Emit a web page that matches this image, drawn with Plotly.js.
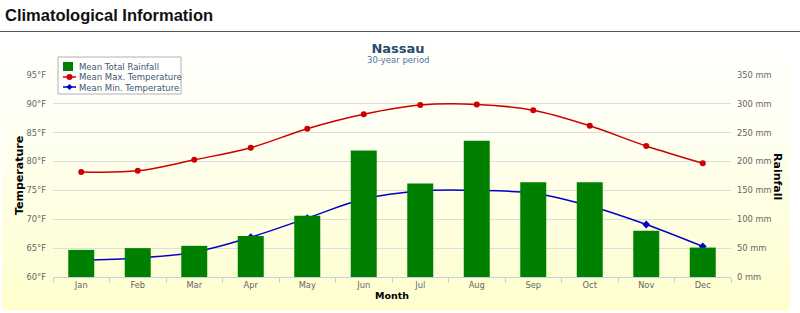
<!DOCTYPE html>
<html>
<head>
<meta charset="utf-8">
<script src="https://cdn.plot.ly/plotly-3.0.1.min.js"></script>
<style>
  html, body { margin:0; padding:0; width:800px; height:313px; overflow:hidden; background:#fff; font-family:"DejaVu Sans", sans-serif; }
  #heading { position:absolute; left:5px; top:3px; font-family:"Liberation Sans", Arial, sans-serif; font-size:16.5px; font-weight:bold; color:#111; margin:0; line-height:24px; }
  #rule { position:absolute; left:0; top:31px; width:800px; height:1px; background:#555; }
  #bg { position:absolute; left:2px; top:33px; width:788px; height:278px; border-radius:0 0 6px 6px;
        background:linear-gradient(to bottom, #ffffff 0%, #fffff0 40%, #fefecd 100%); }
  #chart { position:absolute; left:0; top:0; width:800px; height:313px; }
</style>
</head>
<body>
<h2 id="heading">Climatological Information</h2>
<div id="rule"></div>
<div id="bg"></div>
<div id="chart"></div>
<script>
const months = ["Jan","Feb","Mar","Apr","May","Jun","Jul","Aug","Sep","Oct","Nov","Dec"];
const rainfall = [47, 50, 54, 71, 106, 219, 162, 236, 164, 164, 80, 51];
const maxTemp = [78.2, 78.4, 80.3, 82.4, 85.7, 88.2, 89.8, 89.9, 88.9, 86.2, 82.7, 79.7];
const minTemp = [62.9, 63.3, 64.3, 66.9, 70.2, 73.5, 74.9, 75.0, 74.5, 72.3, 69.1, 65.3];
const tempTicks = [60, 65, 70, 75, 80, 85, 90, 95];
const rainTicks = [0, 50, 100, 150, 200, 250, 300, 350];
const seriesNames = ["Mean Total Rainfall", "Mean Max. Temperature", "Mean Min. Temperature"];
const seriesColors = ["#008000", "#cc0000", "#0000cc"];

// plot area in page pixels
const L = 53, R = 731, T = 75, B = 277;
const px = v => (v - L) / (R - L);
const py = v => (B - v) / (B - T);

const tickFont = {family:"DejaVu Sans", size:8.3, color:"#666"};
const data = [
  {type:"bar", name:seriesNames[0], x:months, y:rainfall, yaxis:"y2",
   marker:{color:seriesColors[0], line:{width:0}}},
  {type:"scatter", mode:"lines+markers", name:seriesNames[1], x:months, y:maxTemp,
   line:{color:seriesColors[1], width:1.5, shape:"spline"}, marker:{color:seriesColors[1], size:6, symbol:"circle"}},
  {type:"scatter", mode:"lines+markers", name:seriesNames[2], x:months, y:minTemp,
   line:{color:seriesColors[2], width:1.5, shape:"spline"}, marker:{color:seriesColors[2], size:6, symbol:"diamond"}}
];

// custom compact legend (Highcharts-like)
const shapes = [
  {type:"rect", xref:"paper", yref:"paper", x0:px(58), x1:px(181), y0:py(57), y1:py(94),
   line:{color:"#b0b0b0", width:1}, fillcolor:"rgba(255,255,255,0.85)", layer:"above"},
  {type:"rect", xref:"paper", yref:"paper", x0:px(63), x1:px(73), y0:py(62), y1:py(71),
   line:{width:0}, fillcolor:seriesColors[0], layer:"above"},
  {type:"line", xref:"paper", yref:"paper", x0:px(63), x1:px(76), y0:py(77), y1:py(77),
   line:{color:seriesColors[1], width:1.5}, layer:"above"},
  {type:"circle", xref:"paper", yref:"paper", x0:px(66.5), x1:px(72.5), y0:py(74), y1:py(80),
   line:{width:0}, fillcolor:seriesColors[1], layer:"above"},
  {type:"line", xref:"paper", yref:"paper", x0:px(63), x1:px(76), y0:py(87), y1:py(87),
   line:{color:seriesColors[2], width:1.5}, layer:"above"},
  {type:"path", xref:"paper", yref:"paper",
   path:`M ${px(69.5)},${py(84)} L ${px(72.5)},${py(87)} L ${px(69.5)},${py(90)} L ${px(66.5)},${py(87)} Z`,
   line:{width:0}, fillcolor:seriesColors[2], layer:"above"}
];
const legendRows = [66.5, 77, 87.5];
const annotations = [
  {text:"30-year period", xref:"paper", yref:"paper", x:px(398), y:py(60), yanchor:"middle",
   showarrow:false, font:{family:"DejaVu Sans", size:8.5, color:"#4d759e"}},
  {text:"<b>Temperature</b>", xref:"paper", yref:"paper", x:px(19), y:0.5, textangle:-90,
   showarrow:false, xanchor:"center", yanchor:"middle", font:{family:"DejaVu Sans", size:11, color:"#000"}},
  {text:"<b>Rainfall</b>", xref:"paper", yref:"paper", x:px(778), y:0.5, textangle:90,
   showarrow:false, xanchor:"center", yanchor:"middle", font:{family:"DejaVu Sans", size:11, color:"#000"}},
  {text:"<b>Month</b>", xref:"paper", yref:"paper", x:px(392), y:py(295), yanchor:"middle",
   showarrow:false, font:{family:"DejaVu Sans", size:9.5, color:"#000"}}
];
seriesNames.forEach((n, i) => annotations.push({
  text:n, xref:"paper", yref:"paper", x:px(77), y:py(legendRows[i]), xanchor:"left", yanchor:"middle",
  showarrow:false, font:{family:"DejaVu Sans", size:8.5, color:"#3e576f"}
}));

const layout = {
  width:800, height:313,
  margin:{l:L, r:800-R, t:T, b:313-B, pad:0},
  paper_bgcolor:"rgba(0,0,0,0)", plot_bgcolor:"rgba(0,0,0,0)",
  font:{family:"DejaVu Sans", color:"#333"},
  showlegend:false,
  bargap:0.54,
  title:{text:"<b>Nassau</b>", font:{family:"DejaVu Sans", size:13, color:"#274b6d"},
         x:px(398), xref:"paper", xanchor:"center", y:1-48/313, yref:"container", yanchor:"middle"},
  xaxis:{type:"category", range:[-0.5, months.length - 0.5], tickson:"boundaries", ticks:"outside",
         ticklen:5, tickcolor:"#c0d0e0",
         showline:true, linecolor:"#c0d0e0", linewidth:1, showgrid:false, automargin:false,
         tickfont:tickFont},
  yaxis:{range:[60,95], tickmode:"array", tickvals:tempTicks, ticktext:tempTicks.map(v => v + "°F"),
         showgrid:true, gridcolor:"#dddddd", zeroline:false, showline:false, ticks:"",
         tickfont:tickFont, ticklabelstandoff:6, automargin:false},
  yaxis2:{range:[0,350], tickmode:"array", tickvals:rainTicks, ticktext:rainTicks.map(v => v + " mm"),
          overlaying:"y", side:"right", showgrid:false, zeroline:false, showline:false, ticks:"",
          tickfont:tickFont, ticklabelstandoff:5, automargin:false},
  shapes:shapes,
  annotations:annotations
};
Plotly.newPlot("chart", data, layout, {displayModeBar:false, staticPlot:true});
</script>
</body>
</html>
